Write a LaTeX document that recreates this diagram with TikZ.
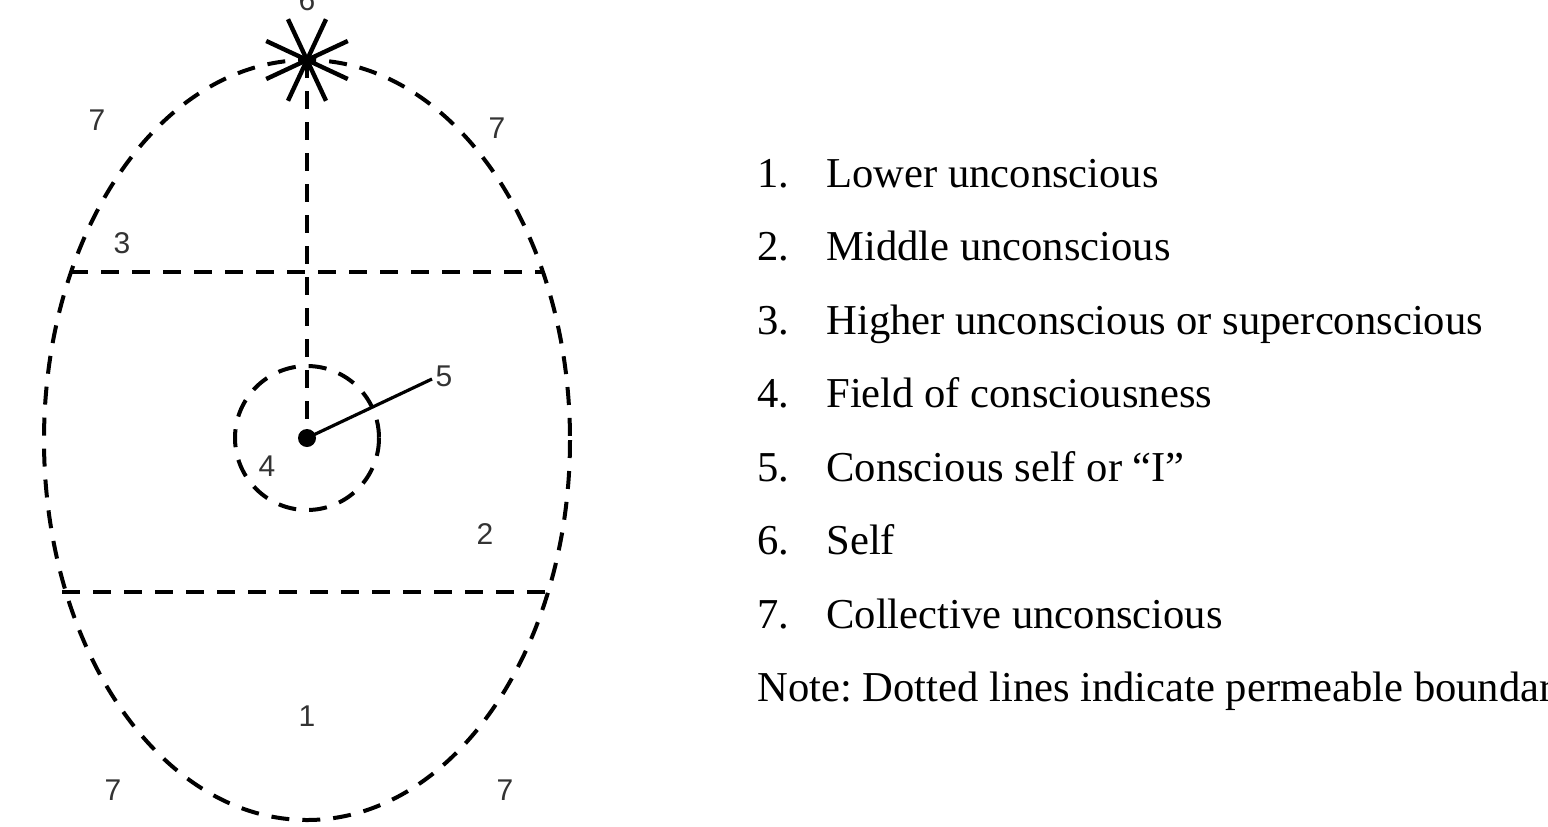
\documentclass[tikz,border=0pt]{standalone}
\usepackage{fontspec}
\setmainfont{Liberation Serif}
\newfontfamily\digitfont{Liberation Sans}
\usetikzlibrary{shapes}
\frenchspacing

\begin{document}
\begin{tikzpicture}[x=0.5pt,y=-0.5pt]
\tikzstyle{perm} = [line width=2pt, dash pattern=on 9pt off 6.5pt]
\tikzstyle{num} = [text=black!80, font=\digitfont\fontsize{15}{17}\selectfont, inner sep=0pt]
\tikzstyle{legend} = [anchor=base west, inner sep=0pt, font=\fontsize{21.3}{25}\selectfont]

\useasboundingbox (0,0) rectangle (1548,826);

% the egg
\draw[perm] (307,440) ellipse [x radius=263, y radius=380];
\coordinate (hl) at (70,272);
\coordinate (hr) at (543,272);
\coordinate (ll) at (62,592);
\coordinate (lr) at (550,592);
\draw[perm] (hl) -- (hr);
\draw[perm] (ll) -- (lr);

% self and conscious self
\node (star) at (307,60) {};
\foreach \a in {25,65,115,155}
  \draw[line width=2.2pt] (307,60) ++(\a:45) -- ++(\a+180:90);
\node[circle,fill,inner sep=0pt,minimum size=9pt] (dot) at (307,438) {};
\draw[perm] (dot) circle [radius=72];
\draw[perm] (star.center) -- (dot.center);

\node[num] (l6) at (307,0) {6};
\node[num] (l5) at (444,376) {5};
\draw[line width=1.6pt] (dot.center) -- (432,379);
\node[num] (l4) at (267,466) {4};
\node[num] (l3) at (122,243) {3};
\node[num] (l2) at (485,534) {2};
\node[num] (l1) at (307,716) {1};
\node[num] (l7a) at (97,120) {7};
\node[num] (l7b) at (497,128) {7};
\node[num] (l7c) at (113,790) {7};
\node[num] (l7d) at (505,790) {7};

% legend
\foreach \i/\t [evaluate=\i as \y using 187+(\i-1)*73.5] in
  {1/Lower unconscious, 2/Middle unconscious, 3/Higher unconscious or superconscious,
   4/Field of consciousness, 5/Conscious self or “I”, 6/Self, 7/Collective unconscious}
{
  \node[legend] (n\i) at (757,\y) {\i.};
  \node[legend] (item\i) at (826,\y) {\t};
}
\node[legend] (note) at (757,701.5) {Note: Dotted lines indicate permeable boundaries};

\end{tikzpicture}
\end{document}
